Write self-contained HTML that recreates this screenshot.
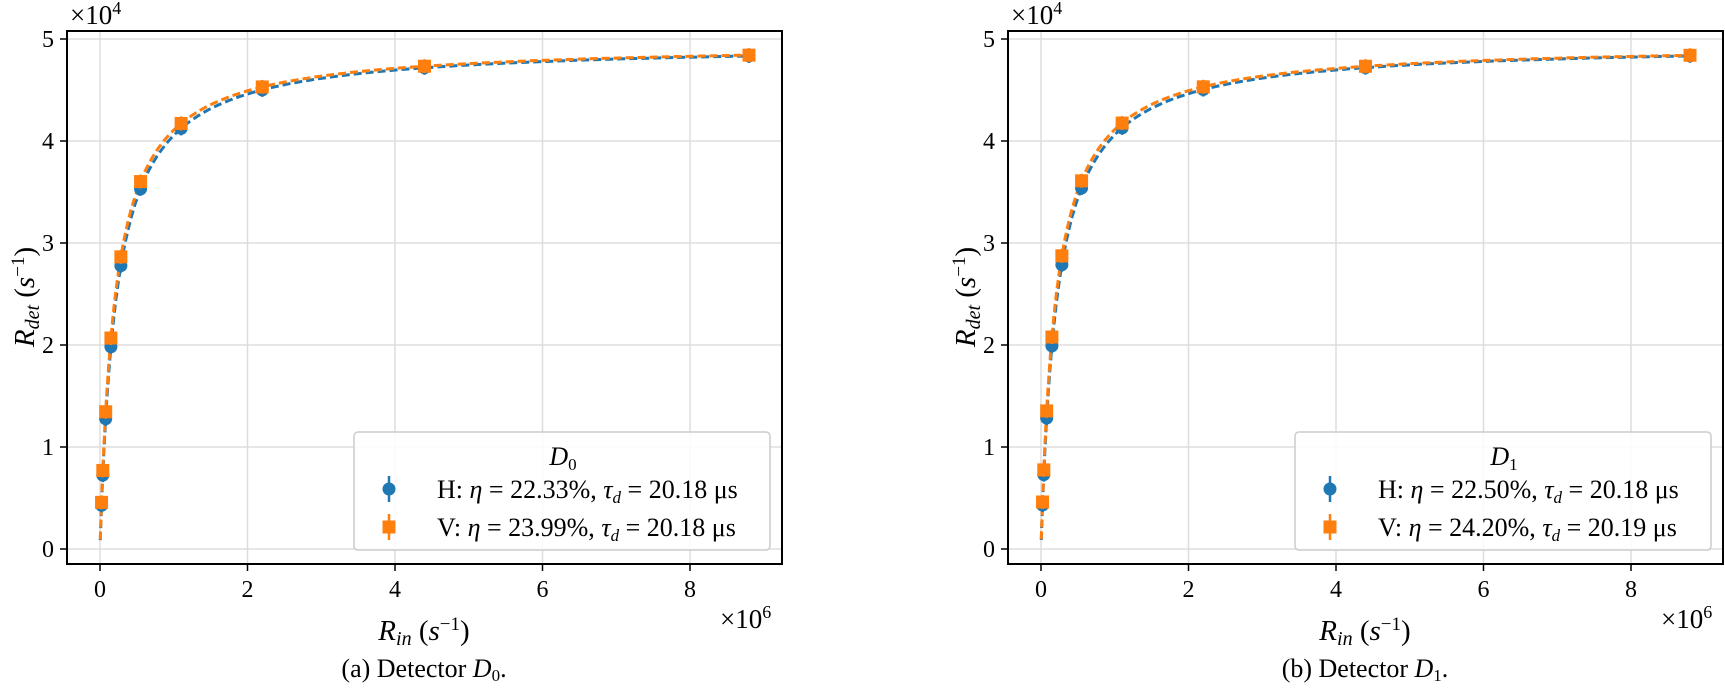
<!DOCTYPE html>
<html><head><meta charset="utf-8"><style>
body{margin:0;background:#fff;}
svg text{font-family:"Liberation Serif","DejaVu Serif",serif;fill:#000;}
</style></head><body>
<svg id="s" width="1725" height="687" xmlns="http://www.w3.org/2000/svg"></svg>
<script>
const S=document.getElementById('s');let h='';
const xs=[0.021,0.038,0.077,0.148,0.283,0.55,1.1,2.2,4.4,8.8];
function panel(off,lab,eH,eV,tH,tV,cap){
 const px=x=>off+100+x*73.75, py=y=>549-y*102;
 for(let i=0;i<=8;i+=2)h+=`<line x1="${px(i)}" y1="31" x2="${px(i)}" y2="564" stroke="#ddd" stroke-width="1.5"/>`;
 for(let j=0;j<=5;j++)h+=`<line x1="${off+67}" y1="${py(j)}" x2="${off+782}" y2="${py(j)}" stroke="#ddd" stroke-width="1.5"/>`;
 const f=(e,t,x)=>{const r=e*x*1e6;return r/(1+r*t*1e-6)/1e4;};
 [[eH,tH,'#1f77b4'],[eV,tV,'#ff7f0e']].forEach(([e,t,c])=>{
  let p='';for(let k=0;k<=300;k++){const x=0.004*Math.pow(8.8/0.004,k/300);p+=(k?'L':'M')+px(x).toFixed(1)+','+py(f(e,t,x)).toFixed(1);}
  h+=`<path d="${p}" fill="none" stroke="${c}" stroke-width="3" stroke-dasharray="8,4"/>`;
 });
 xs.forEach(x=>{const X=px(x),Y=py(f(eH,tH,x));h+=`<line x1="${X}" y1="${Y-7}" x2="${X}" y2="${Y+7}" stroke="#1f77b4" stroke-width="2.5"/><circle cx="${X}" cy="${Y}" r="6.5" fill="#1f77b4"/>`;});
 xs.forEach(x=>{const X=px(x),Y=py(f(eV,tV,x));h+=`<line x1="${X}" y1="${Y-7}" x2="${X}" y2="${Y+7}" stroke="#ff7f0e" stroke-width="2.5"/><rect x="${X-6.5}" y="${Y-6.5}" width="13" height="13" fill="#ff7f0e"/>`;});
 h+=`<rect x="${off+67}" y="31" width="715" height="533" fill="none" stroke="#000" stroke-width="2"/>`;
 for(let i=0;i<=8;i+=2)h+=`<line x1="${px(i)}" y1="564" x2="${px(i)}" y2="571" stroke="#000" stroke-width="1.5"/><text x="${px(i)}" y="597" font-size="24" text-anchor="middle">${i}</text>`;
 for(let j=0;j<=5;j++)h+=`<line x1="${off+60}" y1="${py(j)}" x2="${off+67}" y2="${py(j)}" stroke="#000" stroke-width="1.5"/><text x="${off+54}" y="${py(j)+8}" font-size="24" text-anchor="end">${j}</text>`;
 h+=`<text x="${off+70}" y="24" font-size="27">×10<tspan dy="-10" font-size="18">4</tspan></text>`;
 h+=`<text x="${off+720}" y="628" font-size="27">×10<tspan dy="-10" font-size="18">6</tspan></text>`;
 h+=`<text x="${off+424}" y="640" font-size="29" text-anchor="middle"><tspan font-style="italic">R</tspan><tspan font-style="italic" font-size="20" dy="5">in</tspan><tspan dy="-5"> (</tspan><tspan font-style="italic">s</tspan><tspan dy="-10" font-size="19">−1</tspan><tspan dy="10">)</tspan></text>`;
 h+=`<g transform="translate(${off+34},297) rotate(-90)"><text x="0" y="0" font-size="29" text-anchor="middle"><tspan font-style="italic">R</tspan><tspan font-style="italic" font-size="20" dy="5">det</tspan><tspan dy="-5"> (</tspan><tspan font-style="italic">s</tspan><tspan dy="-10" font-size="19">−1</tspan><tspan dy="10">)</tspan></text></g>`;
 h+=`<text x="${off+424}" y="677" font-size="26" text-anchor="middle">${cap} <tspan font-style="italic">D</tspan><tspan font-size="17" dy="4">${lab}</tspan><tspan dy="-4">.</tspan></text>`;
 h+=`<rect x="${off+354}" y="432" width="416" height="118" rx="4" fill="#fff" fill-opacity="0.85" stroke="#ccc" stroke-width="1.5"/>`;
 h+=`<text x="${off+563}" y="465" font-size="26" text-anchor="middle"><tspan font-style="italic">D</tspan><tspan font-size="17" dy="5">${lab}</tspan></text>`;
 h+=`<line x1="${off+389}" y1="476" x2="${off+389}" y2="502" stroke="#1f77b4" stroke-width="2.5"/><circle cx="${off+389}" cy="489" r="6.5" fill="#1f77b4"/>`;
 h+=`<line x1="${off+389}" y1="514" x2="${off+389}" y2="540" stroke="#ff7f0e" stroke-width="2.5"/><rect x="${off+382.5}" y="520.5" width="13" height="13" fill="#ff7f0e"/>`;
 const row=(y,l,e,t)=>`<text x="${off+437}" y="${y}" font-size="26">${l}: <tspan font-style="italic">η</tspan> = ${e}%, <tspan font-style="italic">τ</tspan><tspan font-style="italic" font-size="17" dy="5">d</tspan><tspan dy="-5"> = ${t} μs</tspan></text>`;
 h+=row(498,'H',(eH*100).toFixed(2),tH.toFixed(2))+row(536,'V',(eV*100).toFixed(2),tV.toFixed(2));
}
panel(0,'0',0.2233,0.2399,20.18,20.18,'(a) Detector');
panel(941,'1',0.2250,0.2420,20.18,20.19,'(b) Detector');
S.innerHTML=h;
</script>
</body></html>
